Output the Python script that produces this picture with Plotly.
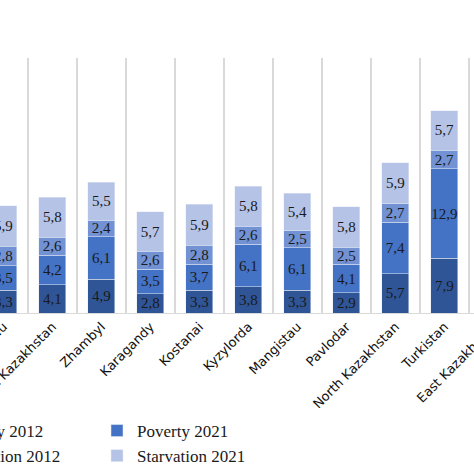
import plotly.graph_objects as go

regions = ["Atyrau", "West Kazakhstan", "Zhambyl", "Karagandy", "Kostanai", "Kyzylorda",
           "Mangistau", "Pavlodar", "North Kazakhstan", "Turkistan", "East Kazakhstan", "Almaty"]
poverty_2012 = [3.3, 4.1, 4.9, 2.8, 3.3, 3.8, 3.3, 2.9, 5.7, 7.9, None, None]
poverty_2021 = [3.5, 4.2, 6.1, 3.5, 3.7, 6.1, 6.1, 4.1, 7.4, 12.9, None, None]
starvation_2012 = [2.8, 2.6, 2.4, 2.6, 2.8, 2.6, 2.5, 2.5, 2.7, 2.7, None, None]
starvation_2021 = [5.9, 5.8, 5.5, 5.7, 5.9, 5.8, 5.4, 5.8, 5.9, 5.7, None, None]

series = [
    ("Poverty 2012", poverty_2012, "#2f5597"),
    ("Poverty 2021", poverty_2021, "#4472c4"),
    ("Starvation 2012", starvation_2012, "#7292d3"),
    ("Starvation 2021", starvation_2021, "#b4c3e6"),
]

fig = go.Figure()
for name, vals, color in series:
    fig.add_trace(go.Bar(
        x=regions, y=vals, name=name, marker_color=color,
        text=[str(v).replace(".", ",") if v is not None else "" for v in vals],
        textposition="inside", insidetextanchor="middle",
        textfont=dict(family="Liberation Serif", size=15, color="#1a1a1a"),
        textangle=0,
    ))

W = 800
fig.update_layout(
    barmode="stack", bargap=0.45,
    width=W, height=474,
    margin=dict(l=0, r=0, t=58, b=161, autoexpand=False),
    plot_bgcolor="white", paper_bgcolor="white",
    uniformtext=dict(minsize=15, mode="show"),
    legend=dict(orientation="h", x=-88 / W, xanchor="left", y=18, yref="container",
                yanchor="top", traceorder="normal",
                font=dict(family="Liberation Serif", size=17, color="#1a1a1a"),
                entrywidth=140, entrywidthmode="pixels"),
    xaxis=dict(range=[-0.07, (W - 3.5) / 49], tickson="boundaries", showgrid=True,
               gridcolor="#d9d9d9", gridwidth=2, tickangle=-45, ticks="",
               showline=True, linecolor="#d9d9d9", linewidth=1,
               tickfont=dict(family="DejaVu Sans", size=13, color="#111111")),
    yaxis=dict(range=[0, 36.8], showgrid=False, showticklabels=False, zeroline=False),
)

fig.write_html("out.html", config={"displayModeBar": False},
               post_script="document.body.style.margin='0';document.body.style.overflow='hidden';")
